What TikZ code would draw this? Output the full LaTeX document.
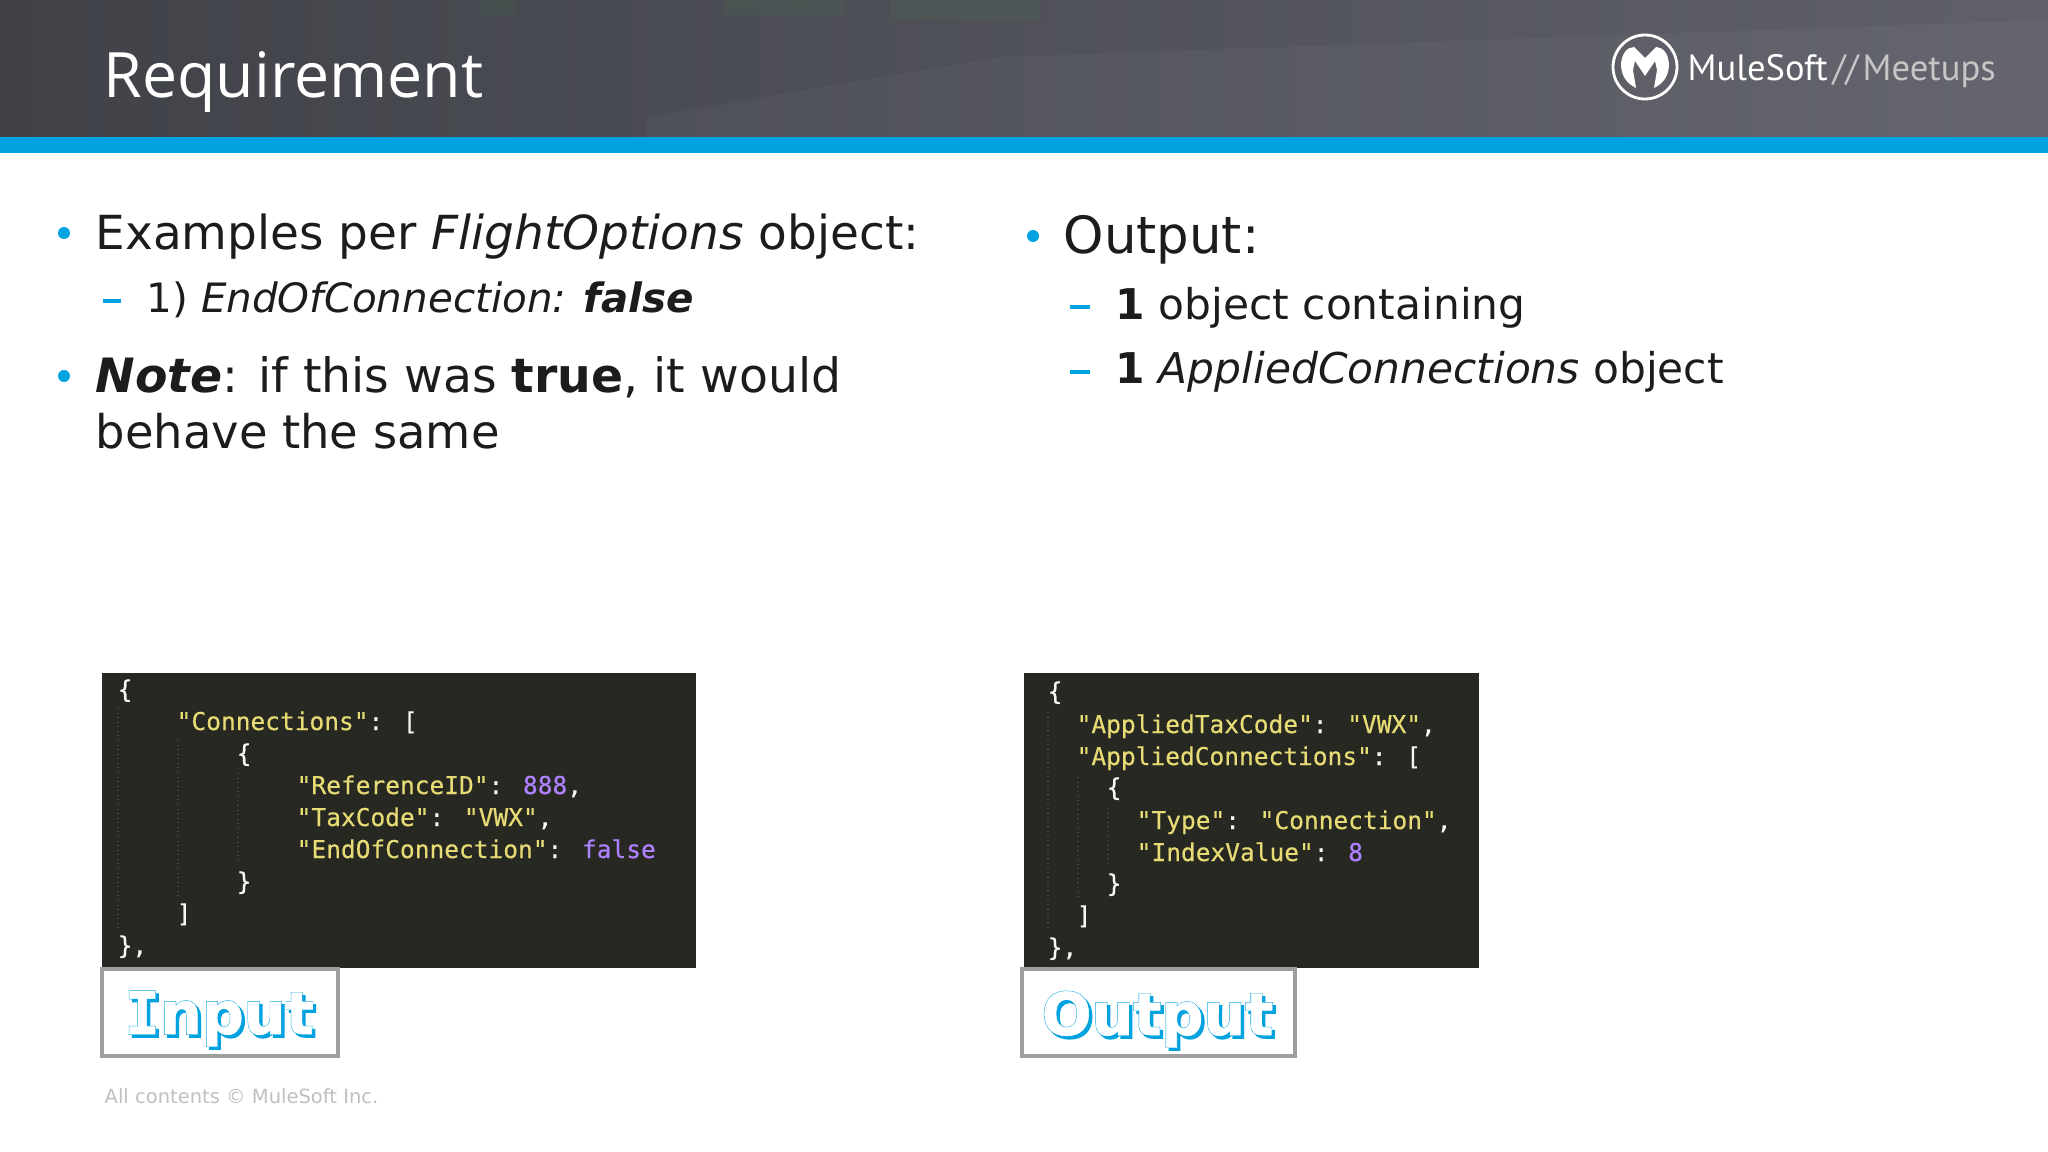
\documentclass[tikz,border=0pt]{standalone}
\usepackage{fontspec}
\setmainfont{DejaVu Sans}
\newfontfamily\titlefont{Open Sans}
\newfontfamily\logofont{PT Sans}
\newfontfamily\codefont[FakeBold=.4]{DejaVu Sans Mono}
\newfontfamily\tagfont[FakeBold=1]{DejaVu Sans Bold}
\newfontfamily\tagmono[FakeBold=1]{DejaVu Sans Mono Bold}
\newfontfamily\tagfat[FakeBold=2.6]{DejaVu Sans Bold}
\newfontfamily\tagmonofat[FakeBold=2.6]{DejaVu Sans Mono Bold}
\definecolor{blueline}{HTML}{00A2DF}
\definecolor{codebg}{HTML}{272822}
\definecolor{codestr}{HTML}{E6DB74}
\definecolor{codenum}{HTML}{AE81FF}
\definecolor{codewhite}{HTML}{F8F8F2}
\definecolor{guide}{HTML}{4A4A42}
\definecolor{textdark}{HTML}{1C1C1C}
\definecolor{headleft}{HTML}{404248}
\definecolor{headright}{HTML}{5F606A}
\tikzset{
    body/.style={anchor=base west, inner sep=0, text=textdark, font=\fontsize{13.35}{15}\selectfont},
    subbody/.style={anchor=base west, inner sep=0, text=textdark, font=\fontsize{12.05}{14}\selectfont},
    code/.style={anchor=base west, inner sep=0, text=codewhite, font=\fontsize{6.97}{9}\selectfont\codefont},
    guideline/.style={guide, densely dotted, line width=.3pt},
    tagbox/.style={draw=black!38, line width=1.2pt, fill=white},
    tagtext/.style={anchor=base west, inner sep=0, font=\fontsize{16.7}{18}\selectfont},
    logotext/.style={anchor=base west, inner sep=0, font=\fontsize{10.4}{12}\selectfont\logofont},
    dashmark/.style={blueline, line width=1.2pt},
}
\newcommand{\str}[1]{\textcolor{codestr}{#1}}
\newcommand{\num}[1]{\textcolor{codenum}{#1}}
\begin{document}
\begin{tikzpicture}[x=.01cm, y=-.01cm]
    \useasboundingbox (0, 0) rectangle (2048, 1152);
    % header
    \shade[left color=headleft, right color=headright] (0, 0) rectangle (2048, 138);
    \fill[white, opacity=.03] (647, 137) -- (647, 117) -- (1000, 57) -- (2048, 20) -- (2048, 137) -- cycle;
    \fill[green!50!gray, opacity=.05] (480, 0) rectangle (515, 15) (725, 0) rectangle (845, 15) (890, 0) rectangle (1040, 20);
    \fill[blueline] (0, 137) rectangle (2048, 153);
    \node[anchor=base west, inner sep=0, text=white, font=\fontsize{17.8}{20}\selectfont\titlefont] (title) at (103, 98) {Requirement};
    % logo
    \draw[white, line width=.8pt] (1645, 67) circle (32);
    \fill[white] (1636, 88) .. controls (1628, 84) and (1622, 78) .. (1621, 66) .. controls (1621, 54) and (1627, 47) .. (1634, 47) -- (1645, 58) -- (1656, 47) .. controls (1663, 47) and (1669, 54) .. (1669, 66) .. controls (1668, 78) and (1662, 84) .. (1654, 88) -- (1657, 70) -- (1655, 61) -- (1645, 76) -- (1635, 61) -- (1633, 70) -- cycle;
    \node[logotext, text=white] (mule) at (1687, 81) {MuleSoft};
    \node[logotext, text=white!55!gray] (slash) at (1832, 81) {//};
    \node[logotext, text=white!55!gray] (meet) at (1862, 81) {Meetups};
    % left column
    \fill[blueline] (64, 233) circle (6);
    \node[body] (ex) at (95, 250) {Examples per \textit{FlightOptions} object:};
    \draw[dashmark] (103, 301) -- (121, 301);
    \node[subbody, font=\fontsize{11.5}{14}\selectfont] (eoc) at (146, 313) {1) \textit{EndOfConnection:} \textbf{\textit{false}}};
    \fill[blueline] (64, 376) circle (6);
    \node[body, font=\fontsize{13.45}{15}\selectfont] (note) at (95, 393) {\textbf{\textit{Note}}: if this was \textbf{true}, it would};
    \node[body, font=\fontsize{13.2}{15}\selectfont] (same) at (95, 449) {behave the same};
    % right column
    \fill[blueline] (1033, 236) circle (6);
    \node[body, font=\fontsize{14.6}{16}\selectfont] (out) at (1063, 254) {Output:};
    \draw[dashmark] (1070, 307) -- (1090, 307);
    \node[subbody] (one) at (1115, 320) {\textbf{1} object containing};
    \draw[dashmark] (1070, 372) -- (1090, 372);
    \node[subbody] (two) at (1115, 384) {\textbf{1} \textit{AppliedConnections} object};
    % input code
    \fill[codebg] (102, 673) rectangle (696, 968);
    \draw[guideline] (118, 708) -- (118, 928);
    \draw[guideline] (178, 740) -- (178, 897);
    \draw[guideline] (238, 773) -- (238, 862);
    \node[code] (a1) at (117, 698) {\{};
    \node[code] (a2) at (176, 730) {\str{"Connections"}: [};
    \node[code] (a3) at (236, 762) {\{};
    \node[code] (a4) at (296, 794) {\str{"ReferenceID"}: \num{888},};
    \node[code] (a5) at (296, 826) {\str{"TaxCode"}: \str{"VWX"},};
    \node[code] (a6) at (296, 858) {\str{"EndOfConnection"}: \num{false}};
    \node[code] (a7) at (236, 890) {\}};
    \node[code] (a8) at (176, 922) {]};
    \node[code] (a9) at (117, 954) {\},};
    % output code
    \fill[codebg] (1024, 673) rectangle (1479, 968);
    \draw[guideline] (1048, 712) -- (1048, 930);
    \draw[guideline] (1078, 777) -- (1078, 898);
    \draw[guideline] (1108, 808) -- (1108, 867);
    \node[code] (b1) at (1047, 700) {\{};
    \node[code] (b2) at (1076, 733) {\str{"AppliedTaxCode"}: \str{"VWX"},};
    \node[code] (b3) at (1076, 765) {\str{"AppliedConnections"}: [};
    \node[code] (b4) at (1106, 796) {\{};
    \node[code] (b5) at (1136, 829) {\str{"Type"}: \str{"Connection"},};
    \node[code] (b6) at (1136, 861) {\str{"IndexValue"}: \num{8}};
    \node[code] (b7) at (1106, 892) {\}};
    \node[code] (b8) at (1076, 924) {]};
    \node[code] (b9) at (1047, 956) {\},};
    % tags
    \draw[tagbox] (102, 969) rectangle (338, 1056);
    \draw[tagbox] (1022, 969) rectangle (1295, 1056);
    \foreach \tx/\tn in {3/s, 0/o} {
        \node[tagtext, text=blueline] (in\tn) at (124+\tx, 1034+\tx) {{\tagmonofat I}\tagfat nput};
        \node[tagtext, text=blueline] (ou\tn) at (1041+\tx, 1035+\tx) {\tagfat Output};
    }
    \node[tagtext, text=white] (inw) at (124, 1034) {{\tagmono I}\tagfont nput};
    \node[tagtext, text=white] (ouw) at (1041, 1035) {\tagfont Output};
    % footer
    \node[anchor=base west, inner sep=0, text=black!25, font=\fontsize{5.55}{7}\selectfont] (foot) at (104, 1103) {All contents © MuleSoft Inc.};
\end{tikzpicture}
\end{document}
